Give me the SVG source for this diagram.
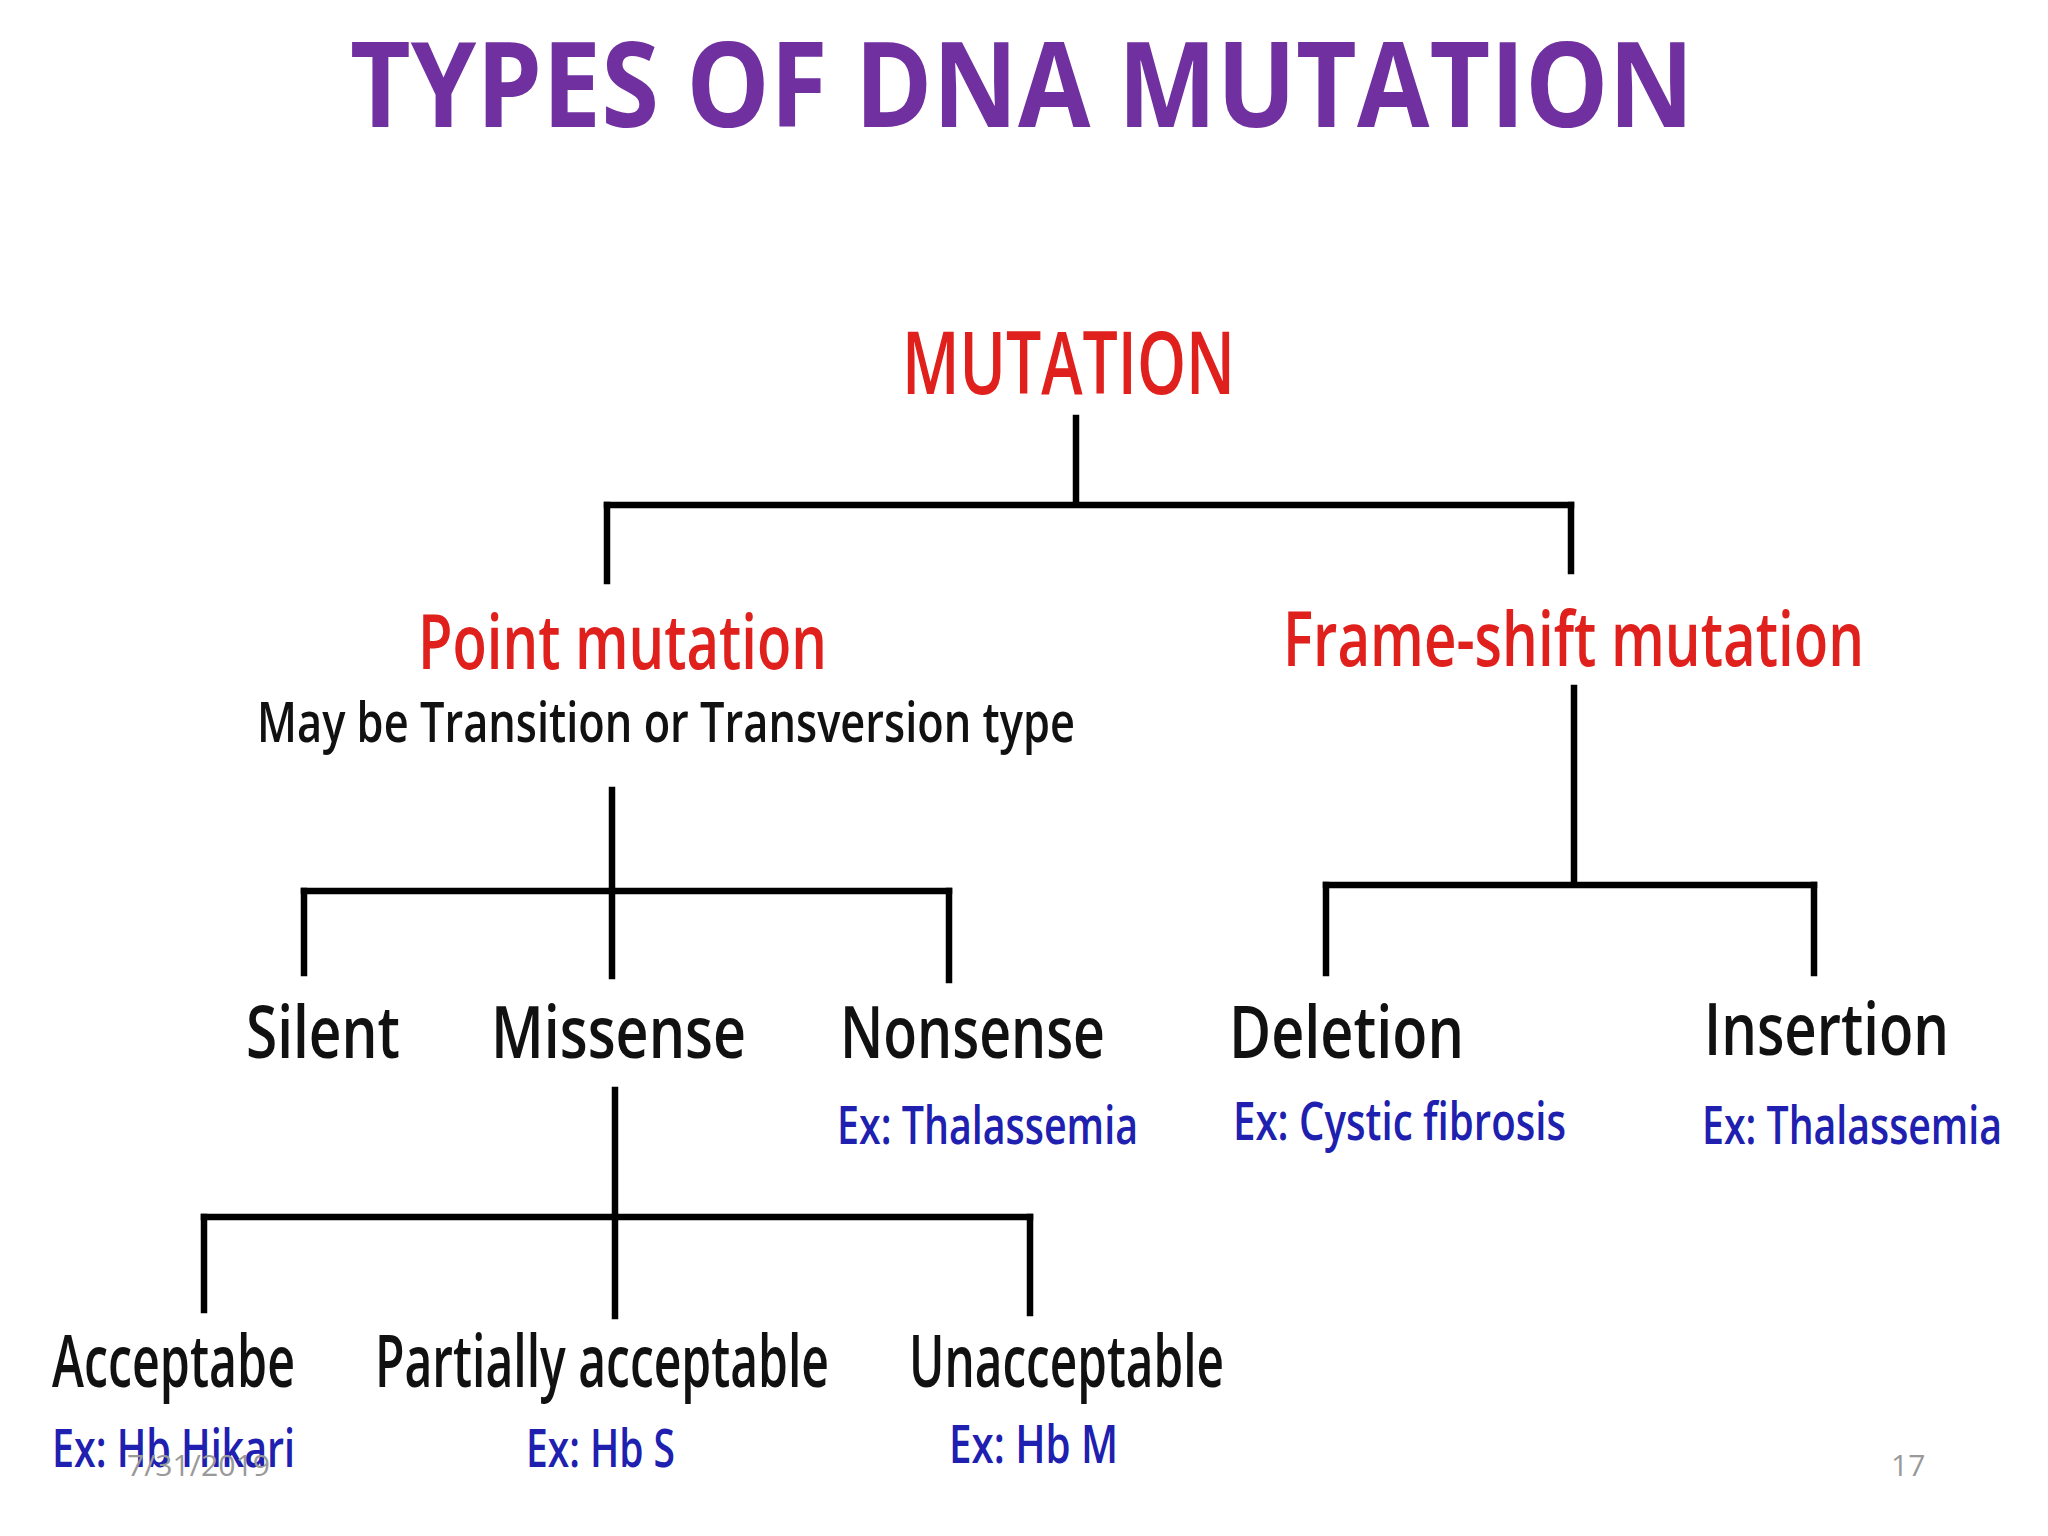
<svg xmlns="http://www.w3.org/2000/svg" width="2048" height="1536" viewBox="0 0 2048 1536">
<style>
text{font-family:"Open Sans","Liberation Sans",sans-serif;}
.t{font-weight:bold;font-size:118px;fill:#7030A0}
.r{fill:#E0201C;font-size:76px;font-weight:600}
.k{fill:#111;font-size:72px;font-weight:600}
.s{fill:#111;font-size:56px;font-weight:600}
.b{fill:#2020B0;font-size:52px;font-weight:600}
.g{fill:#999;font-size:30px}
#connectors line{stroke:#000;stroke-width:6.5;stroke-linecap:square}
</style>
<rect width="2048" height="1536" fill="#fff"/>
<text class="t" x="350" y="127" textLength="1344" lengthAdjust="spacingAndGlyphs">TYPES OF DNA MUTATION</text>
<g id="connectors">
<line x1="1076" y1="418" x2="1076" y2="502"/>
<line x1="607" y1="505" x2="1571" y2="505"/>
<line x1="607" y1="505" x2="607" y2="581"/>
<line x1="1571" y1="505" x2="1571" y2="571"/>
<line x1="612" y1="790" x2="612" y2="888"/>
<line x1="304" y1="891" x2="949" y2="891"/>
<line x1="304" y1="891" x2="304" y2="973"/>
<line x1="612" y1="891" x2="612" y2="976"/>
<line x1="949" y1="891" x2="949" y2="980"/>
<line x1="1574" y1="688" x2="1574" y2="883"/>
<line x1="1326" y1="885" x2="1814" y2="885"/>
<line x1="1326" y1="885" x2="1326" y2="973"/>
<line x1="1814" y1="885" x2="1814" y2="973"/>
<line x1="615" y1="1090" x2="615" y2="1215"/>
<line x1="204" y1="1217" x2="1030" y2="1217"/>
<line x1="204" y1="1217" x2="204" y2="1310"/>
<line x1="615" y1="1217" x2="615" y2="1316"/>
<line x1="1030" y1="1217" x2="1030" y2="1313"/>
</g>
<g id="mutation"><text class="r" x="902" y="394" textLength="333" lengthAdjust="spacingAndGlyphs" style="font-size:86px">MUTATION</text></g>
<g id="point"><text class="r" x="418" y="669" textLength="409" lengthAdjust="spacingAndGlyphs">Point mutation</text>
<text class="s" x="257" y="742" textLength="818" lengthAdjust="spacingAndGlyphs">May be Transition or Transversion type</text></g>
<g id="frameshift"><text class="r" x="1283" y="666" textLength="581" lengthAdjust="spacingAndGlyphs">Frame-shift mutation</text></g>
<g id="silent"><text class="k" x="246" y="1058" textLength="154" lengthAdjust="spacingAndGlyphs">Silent</text></g>
<g id="missense"><text class="k" x="491" y="1058" textLength="255" lengthAdjust="spacingAndGlyphs">Missense</text></g>
<g id="nonsense"><text class="k" x="840" y="1058" textLength="265" lengthAdjust="spacingAndGlyphs">Nonsense</text>
<text class="b" x="837" y="1144" textLength="301" lengthAdjust="spacingAndGlyphs">Ex: Thalassemia</text></g>
<g id="deletion"><text class="k" x="1229" y="1058" textLength="235" lengthAdjust="spacingAndGlyphs">Deletion</text>
<text class="b" x="1233" y="1140" textLength="333" lengthAdjust="spacingAndGlyphs">Ex: Cystic fibrosis</text></g>
<g id="insertion"><text class="k" x="1704" y="1055" textLength="245" lengthAdjust="spacingAndGlyphs">Insertion</text>
<text class="b" x="1702" y="1144" textLength="300" lengthAdjust="spacingAndGlyphs">Ex: Thalassemia</text></g>
<g id="acceptable"><text class="k" x="52" y="1387" textLength="243" lengthAdjust="spacingAndGlyphs">Acceptabe</text>
<text class="b" x="52" y="1467" textLength="243" lengthAdjust="spacingAndGlyphs">Ex: Hb Hikari</text></g>
<g id="partial"><text class="k" x="375" y="1387" textLength="454" lengthAdjust="spacingAndGlyphs">Partially acceptable</text>
<text class="b" x="526" y="1467" textLength="149" lengthAdjust="spacingAndGlyphs">Ex: Hb S</text></g>
<g id="unacceptable"><text class="k" x="909" y="1387" textLength="315" lengthAdjust="spacingAndGlyphs">Unacceptable</text>
<text class="b" x="949" y="1463" textLength="169" lengthAdjust="spacingAndGlyphs">Ex: Hb M</text></g>
<text class="g" x="127" y="1476" textLength="143" lengthAdjust="spacingAndGlyphs">7/31/2019</text>
<text class="g" x="1891" y="1476">17</text>
</svg>
